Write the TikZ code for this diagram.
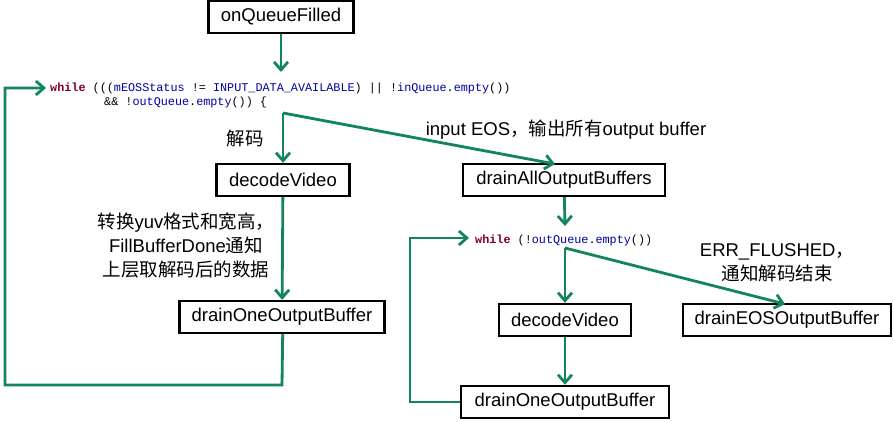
\documentclass[tikz,border=0pt]{standalone}
\usepackage{fontspec}
\setmainfont{Liberation Sans}
\setmonofont{Liberation Mono}
\newfontfamily\cjk{Noto Sans CJK SC}
\usetikzlibrary{arrows.meta}
\definecolor{gr}{RGB}{18,133,90}
\definecolor{kw}{RGB}{127,0,40}
\definecolor{id}{RGB}{0,0,160}
\newcommand{\kwd}[1]{\textcolor{kw}{\textbf{#1}}}
\newcommand{\idf}[1]{\textcolor{id}{#1}}
\begin{document}
\begin{tikzpicture}[x=1pt,y=-1pt,
  box/.style={draw,line width=2.4pt,minimum height=32pt,inner xsep=4pt,font=\fontsize{18.5}{22}\selectfont},
  flow/.style={draw=gr,line width=2.8pt,-{Straight Barb[length=8pt,width=14pt,line width=2.8pt]}},
  code/.style={font=\ttfamily\fontsize{11.8}{14}\selectfont,inner sep=0pt,anchor=west},
  lbl/.style={font=\fontsize{18.5}{24}\selectfont,align=center}]
\useasboundingbox (0,0) rectangle (894,422);
\node[box,minimum width=145pt] (oq) at (281,17) {onQueueFilled};
\node[code] (w1) at (50,88) {\kwd{while} (((\idf{mEOSStatus} != \idf{INPUT\_DATA\_AVAILABLE}) || !\idf{inQueue}.\idf{empty}())};
\node[code] (w1b) at (104,102) {\&\& !\idf{outQueue}.\idf{empty}()) \{};
\node[box,minimum width=133pt] (dv) at (283,180) {decodeVideo};
\node[box,minimum width=202pt] (da) at (564,180) {drainAllOutputBuffers};
\node[box,minimum width=205pt] (do) at (282,317) {drainOneOutputBuffer};
\node[code] (w2) at (475,240) {\kwd{while} (!\idf{outQueue}.\idf{empty}())};
\node[box,minimum width=132pt] (dv2) at (565,320) {decodeVideo};
\node[box,minimum width=208pt] (de) at (787,320) {drainEOSOutputBuffer};
\node[box,minimum width=208pt] (do2) at (565,402) {drainOneOutputBuffer};
\coordinate (s1) at (283,113);
\coordinate (s2) at (565,248);
\path[flow] (oq) -- (281,72);
\path[flow] (s1) -- (dv);
\path[flow] (s1) -- (555,164);
\path[flow] (dv) -- (do);
\path[flow] (da) -- (565,226);
\path[flow] (s2) -- (dv2);
\path[flow] (s2) -- (785,304);
\path[flow] (dv2) -- (do2);
\path[flow] (do.south east) ++(-103,0) -- (282,385) -- (5,385) -- (5,88) -- (46,88);
\path[flow] (do2.west) -- (410,402) -- (410,238) -- (469,238);
\node[lbl] (l1) at (245,138) {\cjk 解码};
\node[lbl] (l2) at (566,130) {input EOS{\cjk ，输出所有}output buffer};
\node[lbl] (l3) at (186,245) {{\cjk 转换}yuv{\cjk 格式和宽高，}\\FillBufferDone{\cjk 通知}\\{\cjk 上层取解码后的数据}};
\node[lbl] (l4) at (777,263) {ERR\_FLUSHED{\cjk ，}\\{\cjk 通知解码结束}};
\end{tikzpicture}
\end{document}
